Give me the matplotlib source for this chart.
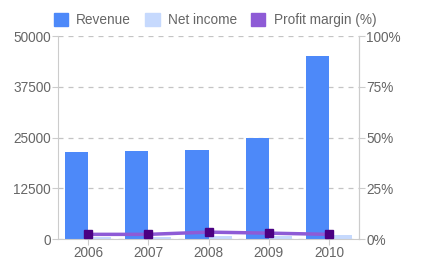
import numpy as np
import matplotlib.pyplot as plt
from matplotlib.patches import Patch

plt.rcParams['font.family'] = ['Liberation Sans', 'DejaVu Sans']

# %% Data
years = ['2006', '2007', '2008', '2009', '2010']
revenue = [21500, 21750, 21900, 24800, 45150]
net_income = [500, 500, 750, 700, 1050]
margin = [2.3, 2.3, 3.4, 2.9, 2.3]

c_rev = '#4d89f9'
c_net = '#c6d9fd'
c_line = '#8e5bd6'
c_mark = '#4b0082'
c_txt = '#666666'
c_axis = '#cccccc'

# %% Plot
fig = plt.figure(figsize=(4.23, 2.71), dpi=100)
ax = fig.add_axes([0.137, 0.118, 0.712, 0.749])
x = np.arange(len(years))
w = 0.385

ax.bar(x - w / 2, revenue, w, color=c_rev, zorder=2)
ax.bar(x + w / 2, net_income, w, color=c_net, zorder=2)

ax.set_xlim(-0.5, len(years) - 0.5)
ax.set_ylim(0, 50000)
ax.set_yticks(np.arange(0, 50001, 12500))
ax.set_xticks(x)
ax.set_xticklabels(years)
ax.grid(axis='y', ls=(0, (4, 4)), color='#c4c4c4', lw=0.9, zorder=1)
for s in ['top']:
    ax.spines[s].set_visible(False)
for s in ['left', 'right', 'bottom']:
    ax.spines[s].set_color(c_axis)
ax.tick_params(colors=c_axis, labelcolor=c_txt, labelsize=9.8, length=4, pad=1)

ax2 = ax.twinx()
ax2.set_ylim(0, 100)
ax2.set_yticks([0, 25, 50, 75, 100])
ax2.set_yticklabels(['0%', '25%', '50%', '75%', '100%'])
ax2.plot(x, margin, color=c_line, lw=2.5, zorder=3)
ax2.plot(x, margin, 's', color=c_mark, ms=5.5, zorder=4)
for s in ['top', 'left', 'bottom']:
    ax2.spines[s].set_visible(False)
ax2.spines['right'].set_color(c_axis)
ax2.tick_params(colors=c_axis, labelcolor=c_txt, labelsize=9.8, length=4, pad=1)

handles = [Patch(color=c_rev), Patch(color=c_net), Patch(color=c_line)]
fig.legend(handles, ['Revenue', 'Net income', 'Profit margin (%)'],
           loc='center', bbox_to_anchor=(0.508, 0.925), ncol=3, frameon=False,
           fontsize=9.8, labelcolor=c_txt, handlelength=1.05, handleheight=1.05,
           handletextpad=0.6, columnspacing=1.05)

plt.savefig('out.png')
